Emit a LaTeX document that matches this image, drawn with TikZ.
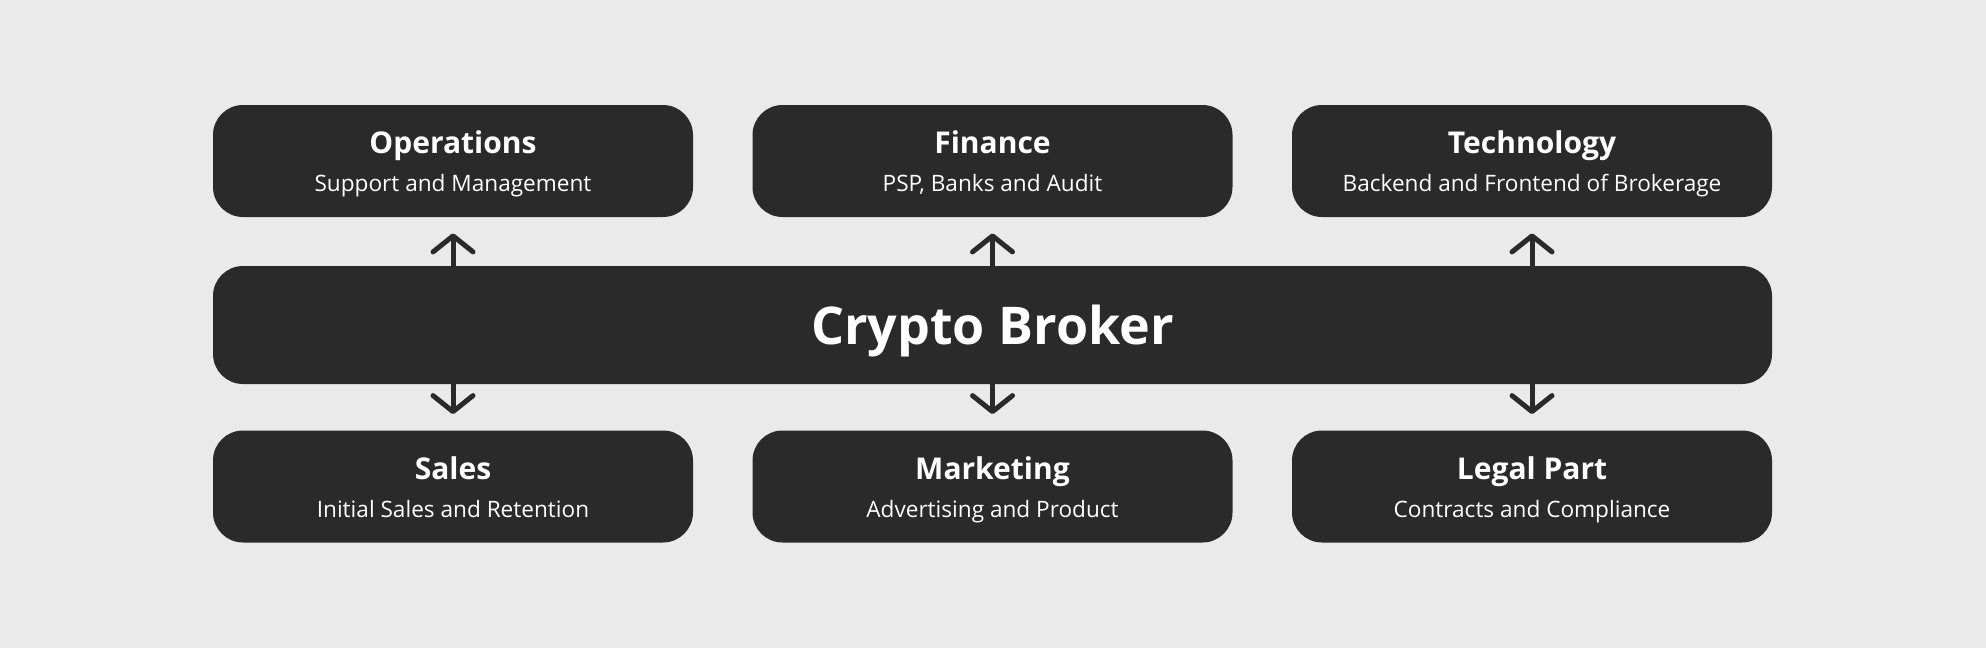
\documentclass[tikz,border=0pt]{standalone}
\usepackage{fontspec}
\setmainfont{Open Sans}
\usepackage{xcolor}
\usepackage{tikz}
\usetikzlibrary{arrows.meta,positioning}

\definecolor{boxdark}{HTML}{2A2A2A}
\definecolor{paper}{HTML}{EAEAEA}

\newcommand{\depttext}[2]{{\fontsize{15}{18}\selectfont\bfseries\rule{0pt}{14.8pt}#1}\\[5pt]{\rule[-3pt]{0pt}{3pt}#2}}

\begin{document}
\begin{tikzpicture}[
  x=0.5pt, y=-0.5pt,
  dept/.style={fill=boxdark, rounded corners=15pt, align=center, text=white, inner sep=0pt, minimum width=240pt, minimum height=56pt, font=\fontsize{11.3}{14}\selectfont},
  hub/.style={fill=boxdark, rounded corners=15pt, text=white, inner sep=0pt, text depth=0pt, minimum width=779.5pt, minimum height=59pt, font=\fontsize{26}{30}\selectfont\bfseries},
  link/.style={draw=boxdark, line width=2.5pt, line cap=round, shorten >=8pt, -{Straight Barb[length=8pt, width=20pt, line cap=round, line join=round]}}
]
\fill[paper] (0,0) rectangle (1986,648);
\useasboundingbox (0,0) rectangle (1986,648);

\node[hub] (broker) at (992.5,325) {Crypto Broker};

\node[dept] (ops) at (453,161) {\depttext{Operations}{Support and Management}};
\node[dept] (fin) at (992.5,161) {\depttext{Finance}{PSP, Banks and Audit}};
\node[dept] (tech) at (1532,161) {\depttext{Technology}{Backend and Frontend of Brokerage}};

\node[dept] (sales) at (453,486.5) {\depttext{Sales}{Initial Sales and Retention}};
\node[dept] (mkt) at (992.5,486.5) {\depttext{Marketing}{Advertising and Product}};
\node[dept] (legal) at (1532,486.5) {\depttext{Legal Part}{Contracts and Compliance}};

\foreach \d in {ops,fin,tech}
  \draw[link] (\d.south |- broker.north) -- (\d.south);
\foreach \d in {sales,mkt,legal}
  \draw[link] (\d.north |- broker.south) -- (\d.north);
\end{tikzpicture}
\end{document}
